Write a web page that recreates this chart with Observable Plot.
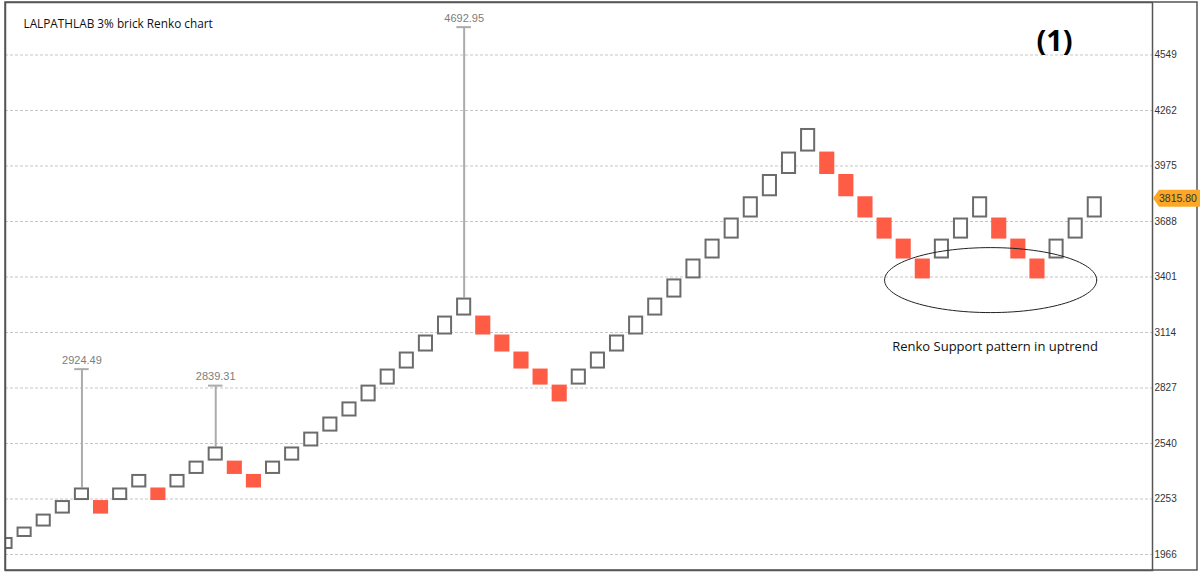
<!DOCTYPE html>
<html><head><meta charset="utf-8">
<script src="https://cdn.jsdelivr.net/npm/d3@7"></script>
<script src="https://cdn.jsdelivr.net/npm/@observablehq/plot@0.6"></script>
<style>
body{margin:0;background:#fff;}
#chart svg{display:block}
</style>
</head><body><div id="chart"></div>
<script>
// Renko brick levels (3% bricks)
const levels = [1992, 2054, 2108, 2175, 2245, 2310, 2380, 2449, 2522, 2599, 2677, 2755, 2842,
  2925, 3013, 3101, 3199, 3292, 3391, 3494, 3597, 3706, 3815.8, 3931, 4047, 4169];
// bottom level index of each brick, left to right
const brickBase = [0,1,2,3,4,3,4,5,4,5,6,7,6,5,6,7,8,9,10,11,12,13,14,15,16,15,14,13,12,11,
  12,13,14,15,16,17,18,19,20,21,22,23,24,23,22,21,20,19,18,19,20,21,20,19,18,19,20,21];
// 1 = up (hollow) brick, 0 = down (red) brick
const brickUp = [1,1,1,1,1,0,1,1,0,1,1,1,0,0,1,1,1,1,1,1,1,1,1,1,1,0,0,0,0,0,
  1,1,1,1,1,1,1,1,1,1,1,1,1,0,0,0,0,0,0,1,1,1,0,0,0,1,1,1];
// wicks: brick number and high value
const wickBrick = [5, 12, 25];
const wickHigh = [2924.49, 2839.31, 4692.95];
const yTicks = [1966, 2253, 2540, 2827, 3114, 3401, 3688, 3975, 4262, 4549];
const lastPrice = 3815.80;
const titleText = "LALPATHLAB 3% brick Renko chart";
const panelLabel = "(1)";
const noteText = "Renko Support pattern in uptrend";

const bricks = brickBase.map((b, k) => ({i: k + 1, lo: levels[b], hi: levels[b + 1], up: brickUp[k]}));
const upBricks = bricks.filter(d => d.up === 1);
const downBricks = bricks.filter(d => d.up === 0);
const wicks = wickBrick.map((b, k) => ({i: b, top: bricks[b - 1].hi, high: wickHigh[k]}));

// annotation ellipse (center brick position / price, radii)
const ell = {cx: 52.55, cy: 3385, rx: 5.55, ry: 168};
const ellPts = d3.range(0, 121).map(t => {
  const a = t / 120 * 2 * Math.PI;
  return {x: ell.cx + ell.rx * Math.cos(a), y: ell.cy + ell.ry * Math.sin(a)};
});

const font = "'Liberation Sans', Arial, sans-serif";

const plot = Plot.plot({
  width: 1200,
  height: 576,
  marginLeft: 5,
  marginRight: 48,
  marginTop: 2,
  marginBottom: 6,
  style: {fontFamily: font, background: "#fff"},
  x: {domain: [1, 61.02], axis: null},
  y: {domain: [1883.3, 4820.4], axis: null},
  marks: [
    Plot.ruleY(yTicks, {stroke: "#c6c6c6", strokeDasharray: "3,2", strokeWidth: 1}),
    Plot.ruleX(wicks, {x: "i", y1: "top", y2: "high", stroke: "#ababab", strokeWidth: 2}),
    Plot.ruleY(wicks, {y: "high", x1: d => d.i - 0.38, x2: d => d.i + 0.38, stroke: "#ababab", strokeWidth: 2}),
    Plot.text(wicks, {x: "i", y: "high", text: d => d.high.toFixed(2), dy: -9, fill: "#7d7d7d", fontSize: 11, fontFamily: font}),
    Plot.rect(downBricks, {x1: d => d.i - 0.5, x2: d => d.i + 0.5, y1: "lo", y2: "hi", fill: "#ff5c45",
      insetLeft: 2, insetRight: 2, clip: true}),
    Plot.rect(upBricks, {x1: d => d.i - 0.5, x2: d => d.i + 0.5, y1: "lo", y2: "hi", fill: "#fff",
      stroke: "#6b6b6b", strokeWidth: 2, insetLeft: 3, insetRight: 3, insetTop: 1, insetBottom: 1, clip: true}),
    Plot.line(ellPts, {x: "x", y: "y", stroke: "#222", strokeWidth: 1, curve: "linear"}),
    Plot.text([noteText], {x: 52.78, y: 3016, text: d => d, lineAnchor: "bottom", fontSize: 13,
      fill: "#111", fontFamily: "'Open Sans', sans-serif"}),
    Plot.text([titleText], {frameAnchor: "top-left", dx: 18, dy: 25, text: d => d, lineAnchor: "bottom",
      textAnchor: "start", fontSize: 11.8, fill: "#111", fontFamily: "'Open Sans', sans-serif"}),
    Plot.text([panelLabel], {frameAnchor: "top-right", dx: -98, dy: 39.5, text: d => d, lineAnchor: "middle",
      textAnchor: "middle", fontSize: 29, fontWeight: "bold", fill: "#000", fontFamily: "'Open Sans', sans-serif"}),
    Plot.axisY({anchor: "right", ticks: yTicks, tickSize: 0, tickPadding: 2, tickFormat: d => String(d),
      label: null, fontSize: 10, fill: "#333", fontFamily: font}),
    Plot.frame({stroke: "#555", strokeWidth: 1.5})
  ]
});

document.getElementById("chart").appendChild(plot);

// outer border including the right axis panel, and last-price tag
const svg = d3.select(plot);
svg.append("rect").attr("x", 5).attr("y", 2).attr("width", 1192).attr("height", 568)
  .attr("fill", "none").attr("stroke", "#555").attr("stroke-width", 1.5);
const yc = plot.scale("y").apply(lastPrice) + 2;
const tag = svg.append("g");
tag.append("path")
  .attr("d", `M1153,${yc} L1159,${yc - 8.5} L1200,${yc - 8.5} L1200,${yc + 8.5} L1159,${yc + 8.5} Z`)
  .attr("fill", "#fca826");
tag.append("text").attr("x", 1159).attr("y", yc).attr("dy", "0.35em")
  .attr("text-anchor", "start")
  .attr("font-family", font).attr("font-size", 10.5).attr("fill", "#333")
  .text(lastPrice.toFixed(2));
</script>
</body></html>
